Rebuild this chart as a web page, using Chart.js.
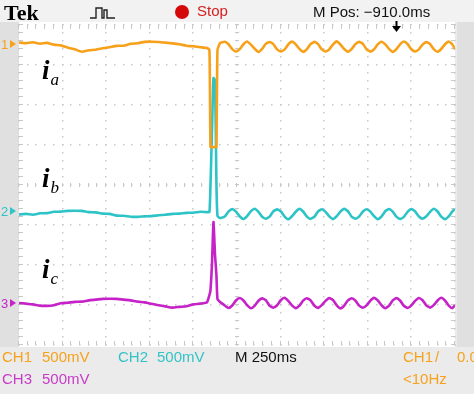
<!DOCTYPE html>
<html>
<head>
<meta charset="utf-8">
<script src="https://cdn.jsdelivr.net/npm/chart.js@4"></script>
<style>
  body { margin: 0; background: #ececec; }
  #wrap { position: relative; width: 474px; height: 394px; overflow: hidden; }
  #wrap canvas { position: absolute; left: 0; top: 0; }
  .t { position: absolute; font-family: "Liberation Sans", Arial, sans-serif; font-size: 15px; line-height: 15px; white-space: nowrap; }
  .lbl { position: absolute; font-family: "Liberation Serif", serif; font-style: italic; font-weight: bold; font-size: 27px; line-height: 27px; color: #000; }
  .lbl span { font-size: 17px; font-weight: normal; position: relative; top: 6px; left: 1px; }
  .c1 { color: #f6a21c; } .c2 { color: #33c3c6; } .c3 { color: #c83bc8; }
</style>
</head>
<body>
<div id="wrap">
  <canvas id="scope" width="474" height="394"></canvas>

  <div class="t" style="left:4px;top:0px;font:bold 22px 'Liberation Serif',serif;">Tek</div>
  <svg style="position:absolute;left:89px;top:5px" width="32" height="16">
    <polyline points="1,13 7,13 7,3 13,3 13,13 15,13 15,5 18,5 18,13 26,13" fill="none" stroke="#222" stroke-width="1.4"/>
  </svg>
  <div style="position:absolute;left:175px;top:5px;width:14px;height:14px;border-radius:7px;background:#d40808"></div>
  <div class="t" style="left:197px;top:3px;color:#d42020">Stop</div>
  <div class="t" style="left:313px;top:4px;color:#111">M Pos: −910.0ms</div>
  <svg style="position:absolute;left:391px;top:21px" width="11" height="12">
    <line x1="5.5" y1="0" x2="5.5" y2="6" stroke="#000" stroke-width="2"/>
    <polygon points="1,5 10,5 5.5,11" fill="#000"/>
  </svg>

  <div class="lbl" style="left:42px;top:57px">i<span>a</span></div>
  <div class="lbl" style="left:42px;top:165px">i<span>b</span></div>
  <div class="lbl" style="left:42px;top:256px">i<span>c</span></div>

  <div class="t c1" style="left:2px;top:349px">CH1</div>
  <div class="t c1" style="left:42px;top:349px">500mV</div>
  <div class="t c2" style="left:118px;top:349px">CH2</div>
  <div class="t c2" style="left:157px;top:349px">500mV</div>
  <div class="t" style="left:235px;top:349px;color:#111">M 250ms</div>
  <div class="t c1" style="left:403px;top:349px">CH1</div>
  <div class="t c1" style="left:435px;top:349px">/</div>
  <div class="t c1" style="left:457px;top:349px">0.0</div>
  <div class="t c3" style="left:2px;top:371px">CH3</div>
  <div class="t c3" style="left:42px;top:371px">500mV</div>
  <div class="t c1" style="left:403px;top:371px">&lt;10Hz</div>
</div>

<script>
// sample times (ms), 250 ms per division, 10 divisions
var timeMs = [
  0, 40, 80, 120, 160, 200, 240, 280, 320, 360, 400, 440, 480, 520, 560, 600,
  640, 680, 720, 760, 800, 840, 880, 920, 960, 1000, 1040, 1078,
  1092, 1098, 1107, 1115, 1124, 1132, 1138, 1153,
  1180, 1201, 1223, 1244, 1266, 1287, 1308, 1330, 1351, 1373, 1394, 1415,
  1437, 1458, 1480, 1501, 1522, 1544, 1565, 1587, 1608, 1629, 1651, 1672,
  1694, 1715, 1736, 1758, 1779, 1801, 1822, 1843, 1865, 1886, 1908, 1929,
  1950, 1972, 1993, 2015, 2036, 2057, 2079, 2100, 2122, 2143, 2164, 2186,
  2207, 2229, 2250, 2271, 2293, 2314, 2336, 2357, 2378, 2400, 2421, 2443,
  2464, 2485, 2500
];

// channel readings in mV, relative to each channel's ground marker
var ch1 = [
  19, 10, 21, 4, 14, -8, -17, -46, -67, -96, -79, -71, -54, -40, -23, -21,
  2, 10, 27, 29, 25, 17, 8, -4, -21, -29, -40, -50,
  -75, -1288, -1288, -1290, -1286, -1288, -75, 12,
  28, -3, -65, -96, -65, -3, 32, -8, -60, -100, -62, 2,
  25, -1, -68, -92, -70, -6, 30, -5, -62, -98, -63, 0,
  26, -2, -66, -94, -68, -4, 33, -6, -63, -97, -61, -2,
  27, 1, -67, -95, -66, -5, 29, -4, -61, -99, -64, -1,
  31, -3, -66, -93, -67, -7, 24, 0, -64, -97, -62, -3,
  30, -6, -65
];
var ch2 = [
  -44, -36, -46, -29, -27, -10, -8, 2, 4, 2, -14, -17, -33, -36, -58, -60,
  -71, -73, -67, -64, -54, -46, -36, -33, -23, -21, -10, -14,
  -12, 325, 1038, 1662, 1638, 350, -62, -88,
  -69, -7, 24, -7, -69, -100, -64, -2, 28, -10, -72, -96,
  -71, -5, 20, -4, -66, -103, -66, -9, 26, -6, -70, -98,
  -72, -4, 22, -11, -67, -101, -65, -8, 27, -3, -73, -97,
  -70, -6, 21, -8, -65, -102, -67, -3, 25, -9, -71, -99,
  -73, -7, 23, -5, -68, -95, -66, -10, 28, -6, -70, -101,
  -68, -4, 22
];
var ch3 = [
  0, -8, -17, -33, -36, -27, -4, 4, 14, 17, 33, 42, 52, 54, 52, 42,
  33, 17, 8, -10, -27, -42, -58, -48, -40, -17, -8, 10,
  100, 162, 512, 1012, 600, 350, 50, 12,
  -31, -62, -31, 31, 62, 31, -27, -66, -35, 28, 58, 36,
  -34, -59, -28, 34, 65, 27, -29, -64, -33, 30, 60, 33,
  -36, -61, -26, 27, 63, 35, -30, -67, -32, 33, 59, 29,
  -33, -60, -29, 29, 64, 32, -28, -65, -34, 32, 61, 28,
  -35, -63, -30, 26, 62, 34, -31, -58, -27, 31, 66, 30,
  -32, -64, -29
];

var mvPerDiv = 500;
var groundDiv = [3.525, -0.65, -2.95];   // marker positions in divisions
var chColors = ['#f7a11a', '#2ec4c7', '#c523c8'];

function trace(vals, ch) {
  return timeMs.map(function (t, i) {
    return { x: t, y: groundDiv[ch] + vals[i] / mvPerDiv };
  });
}

// graticule, background and channel markers
var scopeScreen = {
  id: 'scopeScreen',
  beforeDraw: function (chart) {
    var c = chart.ctx, a = chart.chartArea;
    c.save();
    c.fillStyle = '#ebebeb';
    c.fillRect(0, 0, chart.width, chart.height);
    c.fillStyle = '#f2f2f2';
    c.fillRect(0, 0, chart.width, 22);
    c.fillStyle = '#e0e0e0';
    c.fillRect(0, 22, a.left, a.bottom - 20);
    c.fillRect(a.right + 2, 22, chart.width - a.right, a.bottom - 20);
    c.fillStyle = '#ffffff';
    c.fillRect(a.left, 22, a.right - a.left, a.bottom + 2 - 22);
    c.restore();
  },
  beforeDatasetsDraw: function (chart) {
    var c = chart.ctx, x = chart.scales.x, y = chart.scales.y;
    c.save();
    c.fillStyle = '#c8c8c8';
    var i, j, px, py;
    for (i = 0; i <= 10; i++) {
      px = x.getPixelForValue(i * 250);
      for (j = 0; j <= 40; j++) {
        py = y.getPixelForValue(-4 + j * 0.2);
        c.fillRect(Math.round(px) - 1, Math.round(py) - 1, 1.5, 1.5);
      }
    }
    for (j = 0; j <= 8; j++) {
      py = y.getPixelForValue(-4 + j);
      for (i = 0; i <= 50; i++) {
        px = x.getPixelForValue(i * 50);
        c.fillRect(Math.round(px) - 1, Math.round(py) - 1, 1.5, 1.5);
      }
    }
    // minor ticks on the centre lines and the border
    c.strokeStyle = '#c8c8c8';
    c.lineWidth = 1;
    c.beginPath();
    var yc = y.getPixelForValue(0), xc = x.getPixelForValue(1250);
    var yt = y.getPixelForValue(4), yb = y.getPixelForValue(-4);
    var xl = x.getPixelForValue(0), xr = x.getPixelForValue(2500);
    for (i = 0; i <= 50; i++) {
      px = Math.round(x.getPixelForValue(i * 50)) - 0.5;
      c.moveTo(px, yc - 2); c.lineTo(px, yc + 2);
      c.moveTo(px, yt); c.lineTo(px, yt + 4);
      c.moveTo(px, yb); c.lineTo(px, yb - 4);
    }
    for (j = 0; j <= 40; j++) {
      py = Math.round(y.getPixelForValue(-4 + j * 0.2)) - 0.5;
      c.moveTo(xc - 2, py); c.lineTo(xc + 2, py);
      c.moveTo(xl, py); c.lineTo(xl + 4, py);
      c.moveTo(xr, py); c.lineTo(xr - 4, py);
    }
    c.stroke();
    c.restore();
  },
  afterDraw: function (chart) {
    var c = chart.ctx, y = chart.scales.y;
    c.save();
    c.font = '13px "Liberation Sans", sans-serif';
    c.textBaseline = 'middle';
    ['1', '2', '3'].forEach(function (n, k) {
      var py = Math.round(y.getPixelForValue(groundDiv[k]));
      c.fillStyle = chColors[k];
      c.fillText(n, 1, py + 1);
      c.beginPath();
      c.moveTo(10, py - 4); c.lineTo(16, py); c.lineTo(10, py + 4);
      c.closePath();
      c.fill();
    });
    c.restore();
  }
};

var datasets = [ch1, ch2, ch3].map(function (vals, k) {
  return {
    label: 'CH' + (k + 1),
    data: trace(vals, k),
    borderColor: chColors[k],
    borderWidth: 2.6,
    pointRadius: 0,
    tension: 0.15
  };
});

var chart = new Chart(document.getElementById('scope').getContext('2d'), {
  type: 'line',
  data: { datasets: datasets },
  options: {
    responsive: false,
    animation: false,
    devicePixelRatio: 1,
    layout: { padding: { left: 19, right: 19, top: 25, bottom: 49 } },
    plugins: { legend: { display: false }, tooltip: { enabled: false } },
    scales: {
      x: { type: 'linear', min: 0, max: 2500, display: false },
      y: { type: 'linear', min: -4, max: 4, display: false }
    }
  },
  plugins: [scopeScreen]
});
</script>
</body>
</html>
